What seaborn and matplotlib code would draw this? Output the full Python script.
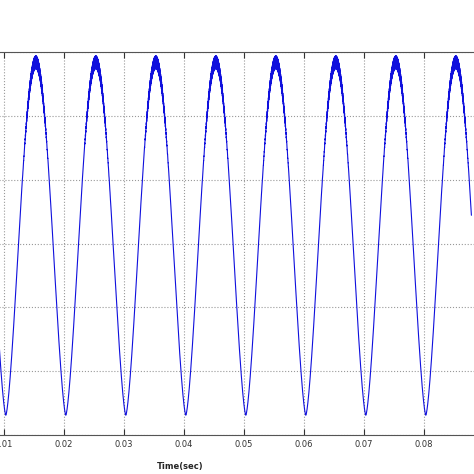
import numpy as np
import matplotlib
matplotlib.use('Agg')
import matplotlib.pyplot as plt
import seaborn as sns

# waveform parameters
period = 0.01          # seconds
first_trough = 0.0203  # seconds
trough_level = 0.31
peak_level = 5.84
shape_power = 1.5
ripple_amp = 0.1
ripple_freq = 20000.0
t_start, t_end = 0.0085, 0.0879
xticks = [0.01, 0.02, 0.03, 0.04, 0.05, 0.06, 0.07, 0.08]
xtick_labels = ['0.01', '0.02', '0.03', '0.04', '0.05', '0.06', '0.07', '0.08']

t = np.linspace(t_start, t_end, 40000)
env = np.abs(np.sin(np.pi * (t - first_trough) / period)) ** shape_power
signal = trough_level + (peak_level - trough_level) * env
signal = signal + ripple_amp * env ** 6 * np.sin(2 * np.pi * ripple_freq * t)

sns.set_style('white')
fig = plt.figure(figsize=(4.74, 4.74), dpi=100)
# axes: x=0.00 at -56px, x=0.10 at 544px; top at 52px, bottom at 435px
ax = fig.add_axes([-56 / 474, (474 - 435) / 474, 600 / 474, 383 / 474])
sns.lineplot(x=t, y=signal, ax=ax, color='#1010dd', linewidth=0.8)
ax.set_xlim(0, 0.1)
ax.set_ylim(0, 6)
ax.set_xticks(xticks)
ax.set_xticklabels(xtick_labels, fontsize=6)
ax.set_yticks(np.arange(0, 7, 1))
ax.set_yticklabels([])
ax.grid(True, color='#999999', linestyle=':', linewidth=0.8)
ax.tick_params(direction='in', length=4, top=True, right=True, bottom=True, left=True, colors='#333333')
for s in ax.spines.values():
    s.set_color('#555555')
    s.set_linewidth(0.8)
fig.text(180 / 474, 1 - 467 / 474, 'Time(sec)', fontsize=6, fontweight='bold', ha='center', va='center')
fig.savefig('out.png', dpi=100)
